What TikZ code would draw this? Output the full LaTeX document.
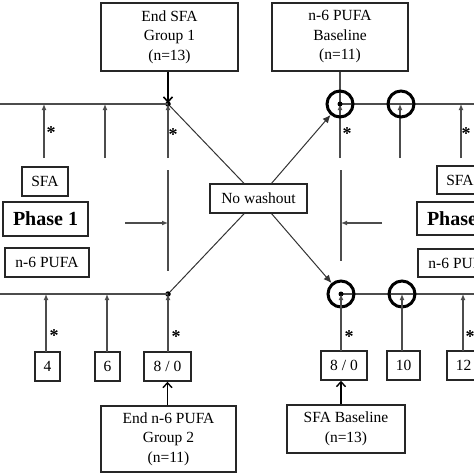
\documentclass[tikz,border=0pt]{standalone}
\usepackage{fontspec}
\setmainfont{Liberation Serif}
\usetikzlibrary{arrows.meta}
\begin{document}
\begin{tikzpicture}[x=1pt,y=-1pt,
  box/.style={draw=black!85,line width=1.4pt,inner sep=0pt,align=center,font=\fontsize{15.5}{19.5}\selectfont},
  bigbox/.style={box,font=\fontsize{20}{24}\selectfont\bfseries},
  ln/.style={draw=black!70,line width=1.3pt},
  up/.style={ln,-{Latex[length=6pt,width=5pt]}},
  stick/.style={draw=black,line width=1.8pt,-{Straight Barb[length=5pt,width=9pt,line width=1.6pt]}},
  ring/.style={circle,draw=black,line width=3pt,minimum size=26pt,inner sep=0pt},
  dot/.style={circle,fill=black,minimum size=5.5pt,inner sep=0pt},
  ast/.style={anchor=base,inner sep=0pt,font=\fontsize{18}{18}\selectfont\bfseries},
  diag/.style={draw=black!80,line width=1pt},
  diagarr/.style={diag,-{Latex[length=8pt,width=7pt]}}]
\useasboundingbox (0,0) rectangle (474,474);
\clip (0,0) rectangle (474,474);
% coordinates
\coordinate (TL0) at (0,104);
\coordinate (BL0) at (0,294);
\coordinate (TR1) at (474,104);
\coordinate (BR1) at (474,294);
\node[dot] (dotT) at (168,104) {};
\node[dot] (dotB) at (168,294) {};
\coordinate (c1T) at (340,104);
\coordinate (c2T) at (401,104);
\coordinate (c1B) at (341,294);
\coordinate (c2B) at (402,294);
% horizontal lines
\draw[ln] (TL0) -- (dotT.center);
\draw[ln] (BL0) -- (dotB.center);
\draw[ln] (c1T) -- (TR1);
\draw[ln] (c1B) -- (BR1);
% top boxes
\node[box,minimum width=137pt,minimum height=68pt] (endsfa) at (169.5,37) {End SFA\\Group 1\\(n=13)};
\node[box,minimum width=136pt,minimum height=68pt] (pbase) at (340,37) {n-6 PUFA\\Baseline\\(n=11)};
\draw[stick] (endsfa.south -| dotT) -- ([yshift=-2pt]dotT.north);
\draw[ln] (pbase.south -| c1T) -- (c1T);
% top vertical arrows
\coordinate (a1) at (44,158);
\coordinate (a2) at (105,158);
\coordinate (a3) at (168,158);
\coordinate (a4) at (340,158);
\coordinate (a5) at (400,158);
\coordinate (a6) at (461,158);
\draw[up] (a1) -- (a1 |- TL0);
\draw[up] (a2) -- (a2 |- TL0);
\draw[up] (a3) -- (dotT.center);
\draw[up] (a4) -- (c1T);
\draw[up] (a5) -- (a5 |- TR1);
\draw[up] (a6) -- (a6 |- TR1);
\node[ast] at (51,138) {*};
\node[ast] at (173,140) {*};
\node[ast] at (347,139) {*};
\node[ast] at (466,139) {*};
% middle verticals
\coordinate (m1a) at (168,170);
\coordinate (m1b) at (168,271);
\coordinate (m2a) at (341,170);
\coordinate (m2b) at (341,261);
\draw[ln] (m1a) -- (m1b);
\draw[ln] (m2a) -- (m2b);
\coordinate (h1) at (125,223);
\coordinate (h2) at (382,223);
\draw[up] (h1) -- (h1 -| m1a);
\draw[up] (h2) -- (h2 -| m2a);
% side boxes
\node[box,minimum width=46pt,minimum height=29pt] (sfaL) at (45,181.5) {SFA};
\node[bigbox,minimum width=85pt,minimum height=34pt] (ph1) at (45.5,219) {Phase 1};
\node[box,minimum width=84pt,minimum height=29pt] (pufaL) at (47,262.5) {n-6 PUFA};
\node[box,minimum width=46pt,minimum height=28pt] (sfaR) at (460,180) {SFA};
\node[bigbox,minimum width=85pt,minimum height=33pt] (ph2) at (459.5,218.5) {Phase 2};
\node[box,minimum width=84pt,minimum height=28pt] (pufaR) at (460,263) {n-6 PUFA};
% rings
\node[ring] (r1T) at (c1T) {};
\node[ring] (r2T) at (c2T) {};
\node[ring] (r1B) at (c1B) {};
\node[ring] (r2B) at (c2B) {};
\node[dot,minimum size=5pt] at (c1T) {};
\node[dot,minimum size=5pt] at (c1B) {};
% no washout
\node[box,minimum width=97pt,minimum height=29pt,fill=white] (nw) at (258.5,198.5) {No washout};
\draw[diag] (dotT) -- (nw);
\draw[diagarr] (nw) -- (r1B);
\draw[diag] (dotB) -- (nw);
\draw[diagarr] (nw) -- (r1T);
% bottom boxes
\node[box,minimum width=25pt,minimum height=29pt] (b4) at (47.5,366.5) {4};
\node[box,minimum width=25pt,minimum height=29pt] (b6) at (107.5,366.5) {6};
\node[box,minimum width=47pt,minimum height=29pt] (b8L) at (167.5,366.5) {8 / 0};
\node[box,minimum width=46pt,minimum height=29pt] (b8R) at (344,365.5) {8 / 0};
\node[box,minimum width=33pt,minimum height=29pt] (b10) at (403.5,365.5) {10};
\node[box,minimum width=33pt,minimum height=29pt] (b12) at (463.5,365.5) {12};
\coordinate (u1) at (46,352);
\coordinate (u2) at (107,352);
\coordinate (u3) at (168,352);
\coordinate (u4) at (341,351);
\coordinate (u5) at (402,351);
\coordinate (u6) at (463,351);
\draw[up] (u1) -- (u1 |- BL0);
\draw[up] (u2) -- (u2 |- BL0);
\draw[up] (u3) -- (dotB.center);
\draw[up] (u4) -- (c1B);
\draw[up] (u5) -- (u5 |- BR1);
\draw[up] (u6) -- (u6 |- BR1);
\node[ast] at (54,341) {*};
\node[ast] at (176,342) {*};
\node[ast] at (349,342) {*};
\node[ast] at (470,342) {*};
% bottom labelled boxes
\node[box,minimum width=135pt,minimum height=66pt] (endpufa) at (168.5,439) {End n-6 PUFA\\Group 2\\(n=11)};
\node[box,minimum width=118pt,minimum height=48pt] (sbase) at (346,429) {SFA Baseline\\(n=13)};
\draw[draw=black,line width=1.6pt,-{Straight Barb[length=5pt,width=9pt,line width=1.4pt]}] (endpufa.north -| b8L) -- (b8L.south);
\draw[draw=black,line width=1.6pt,-{Straight Barb[length=5pt,width=9pt,line width=1.4pt]}] (sbase.north -| u4) -- (b8R.south -| u4);
\end{tikzpicture}
\end{document}
